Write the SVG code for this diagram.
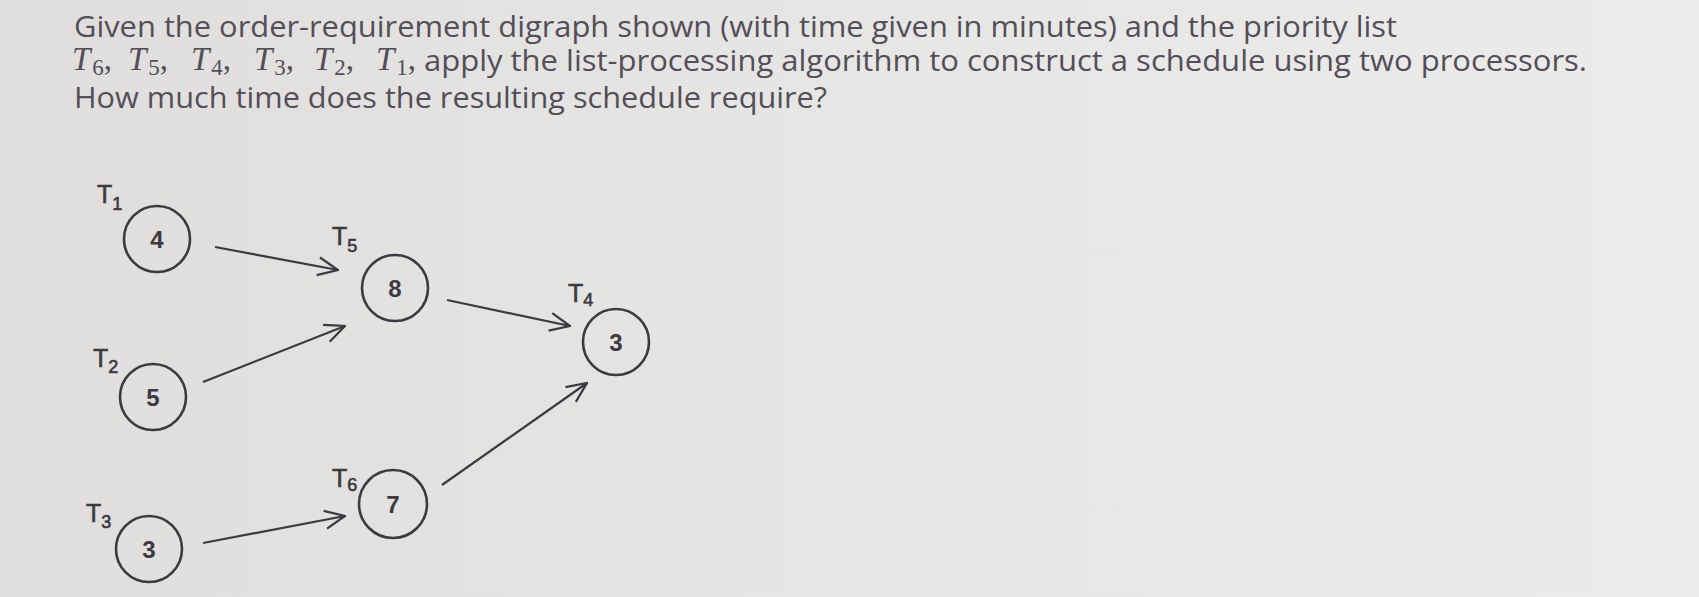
<svg xmlns="http://www.w3.org/2000/svg" width="1699" height="597" viewBox="0 0 1699 597">
<defs>
<linearGradient id="bg" x1="0" y1="0" x2="1" y2="0">
<stop offset="0" stop-color="#dfdedc"/>
<stop offset="0.5" stop-color="#e6e6e4"/>
<stop offset="1" stop-color="#ebebea"/>
</linearGradient>
<marker id="arr" viewBox="0 0 22 22" refX="21" refY="11" markerWidth="22" markerHeight="22" markerUnits="userSpaceOnUse" orient="auto">
<path d="M1,2 L21,11 L1,20" fill="none" stroke="#3d3940" stroke-width="2.2"/>
</marker>
<style>
.q{font-family:"Open Sans","Noto Sans",sans-serif;font-size:30px;fill:#534e58}
.m{font-family:"Liberation Serif","DejaVu Serif",serif;font-size:33px;fill:#534e58}
.mi{font-style:italic}
.ms{font-size:23px}
.lab{font-family:"Liberation Sans",Arial,sans-serif;font-size:25px;fill:#3d3940;stroke:#3d3940;stroke-width:0.6}
.sub{font-size:18px}
.node circle{fill:none;stroke:#3d3940;stroke-width:2.6}
.num{font-family:"Liberation Sans",Arial,sans-serif;font-size:24px;font-weight:bold;fill:#3d3940;text-anchor:middle}
.edge{fill:none;stroke:#3d3940;stroke-width:2.2;marker-end:url(#arr)}
</style>
</defs>
<rect x="0" y="0" width="1699" height="597" fill="url(#bg)"/>

<g id="question">
<text class="q" x="74" y="37" textLength="1323" lengthAdjust="spacingAndGlyphs">Given the order-requirement digraph shown (with time given in minutes) and the priority list</text>
<text class="m" x="72" y="70"><tspan class="mi">T</tspan><tspan class="ms" dx="2" dy="5">6</tspan><tspan dy="-5">,</tspan></text>
<text class="m" x="128" y="70"><tspan class="mi">T</tspan><tspan class="ms" dx="2" dy="5">5</tspan><tspan dy="-5">,</tspan></text>
<text class="m" x="191" y="70"><tspan class="mi">T</tspan><tspan class="ms" dx="2" dy="5">4</tspan><tspan dy="-5">,</tspan></text>
<text class="m" x="254" y="70"><tspan class="mi">T</tspan><tspan class="ms" dx="2" dy="5">3</tspan><tspan dy="-5">,</tspan></text>
<text class="m" x="314" y="70"><tspan class="mi">T</tspan><tspan class="ms" dx="2" dy="5">2</tspan><tspan dy="-5">,</tspan></text>
<text class="m" x="376" y="70"><tspan class="mi">T</tspan><tspan class="ms" dx="2" dy="5">1</tspan><tspan dy="-5">,</tspan></text>
<text class="q" x="424" y="71" textLength="1163" lengthAdjust="spacingAndGlyphs">apply the list-processing algorithm to construct a schedule using two processors.</text>
<text class="q" x="74" y="108" textLength="753" lengthAdjust="spacingAndGlyphs">How much time does the resulting schedule require?</text>
</g>

<g id="connectors">
<line class="edge" x1="215" y1="247" x2="338" y2="270"/>
<line class="edge" x1="203" y1="382" x2="345" y2="326"/>
<line class="edge" x1="447" y1="300" x2="570" y2="326"/>
<line class="edge" x1="442" y1="485" x2="587" y2="383"/>
<line class="edge" x1="203" y1="543" x2="345" y2="516"/>
</g>

<g id="T1" class="node">
<text class="lab" x="97" y="203">T<tspan class="sub" dy="7">1</tspan></text>
<circle cx="157" cy="239" r="33"/>
<text class="num" x="157" y="248">4</text>
</g>
<g id="T2" class="node">
<text class="lab" x="93" y="367">T<tspan class="sub" dy="6">2</tspan></text>
<circle cx="153" cy="397" r="33"/>
<text class="num" x="153" y="406">5</text>
</g>
<g id="T3" class="node">
<text class="lab" x="86" y="522">T<tspan class="sub" dy="6">3</tspan></text>
<circle cx="149" cy="549" r="33"/>
<text class="num" x="149" y="558">3</text>
</g>
<g id="T5" class="node">
<text class="lab" x="332" y="245">T<tspan class="sub" dy="7">5</tspan></text>
<circle cx="395" cy="288" r="33"/>
<text class="num" x="395" y="297">8</text>
</g>
<g id="T6" class="node">
<text class="lab" x="332" y="487">T<tspan class="sub" dy="4">6</tspan></text>
<circle cx="393" cy="504" r="34"/>
<text class="num" x="393" y="513">7</text>
</g>
<g id="T4" class="node">
<text class="lab" x="568" y="302">T<tspan class="sub" dy="4">4</tspan></text>
<circle cx="616" cy="342" r="33"/>
<text class="num" x="616" y="351">3</text>
</g>
</svg>
